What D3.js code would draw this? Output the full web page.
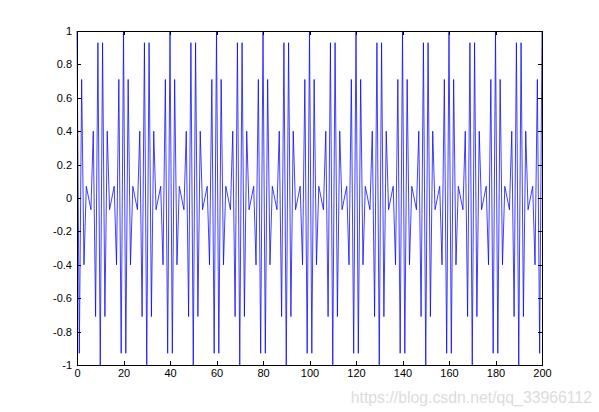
<!DOCTYPE html>
<html lang="en">
<head>
<meta charset="UTF-8">
<title>Sampled cosine</title>
<script src="https://d3js.org/d3.v7.min.js"></script>
<style>
  body { margin: 0; background: #fff; }
  svg text { font-family: "Liberation Sans", Arial, sans-serif; }
  .axis path, .axis line { stroke: #000; shape-rendering: crispEdges; }
  .axis text { font-size: 11px; fill: #000; }
</style>
</head>
<body>
<svg width="599" height="412"></svg>
<script>
// sample values, n = 0 .. 200 (one row per 20 samples)
var values = [
  1, -0.93, 0.71, -0.40, 0.07, 0, -0.07, 0.40, -0.71, 0.93, -1, 0.93, -0.71, 0.40, -0.07, 0, 0.07, -0.40, 0.71, -0.93,
  1, -0.93, 0.71, -0.40, 0.07, 0, -0.07, 0.40, -0.71, 0.93, -1, 0.93, -0.71, 0.40, -0.07, 0, 0.07, -0.40, 0.71, -0.93,
  1, -0.93, 0.71, -0.40, 0.07, 0, -0.07, 0.40, -0.71, 0.93, -1, 0.93, -0.71, 0.40, -0.07, 0, 0.07, -0.40, 0.71, -0.93,
  1, -0.93, 0.71, -0.40, 0.07, 0, -0.07, 0.40, -0.71, 0.93, -1, 0.93, -0.71, 0.40, -0.07, 0, 0.07, -0.40, 0.71, -0.93,
  1, -0.93, 0.71, -0.40, 0.07, 0, -0.07, 0.40, -0.71, 0.93, -1, 0.93, -0.71, 0.40, -0.07, 0, 0.07, -0.40, 0.71, -0.93,
  1, -0.93, 0.71, -0.40, 0.07, 0, -0.07, 0.40, -0.71, 0.93, -1, 0.93, -0.71, 0.40, -0.07, 0, 0.07, -0.40, 0.71, -0.93,
  1, -0.93, 0.71, -0.40, 0.07, 0, -0.07, 0.40, -0.71, 0.93, -1, 0.93, -0.71, 0.40, -0.07, 0, 0.07, -0.40, 0.71, -0.93,
  1, -0.93, 0.71, -0.40, 0.07, 0, -0.07, 0.40, -0.71, 0.93, -1, 0.93, -0.71, 0.40, -0.07, 0, 0.07, -0.40, 0.71, -0.93,
  1, -0.93, 0.71, -0.40, 0.07, 0, -0.07, 0.40, -0.71, 0.93, -1, 0.93, -0.71, 0.40, -0.07, 0, 0.07, -0.40, 0.71, -0.93,
  1, -0.93, 0.71, -0.40, 0.07, 0, -0.07, 0.40, -0.71, 0.93, -1, 0.93, -0.71, 0.40, -0.07, 0, 0.07, -0.40, 0.71, -0.93,
  1
];
var xTicks = [0, 20, 40, 60, 80, 100, 120, 140, 160, 180, 200];
var yTicks = [-1, -0.8, -0.6, -0.4, -0.2, 0, 0.2, 0.4, 0.6, 0.8, 1];

var svg = d3.select("svg");
var plotLeft = 77, plotTop = 31, plotRight = 542, plotBottom = 365;

var x = d3.scaleLinear().domain([0, 200]).range([plotLeft, plotRight]);
var y = d3.scaleLinear().domain([-1, 1]).range([plotBottom, plotTop]);

// signal first, axes box drawn over it
var line = d3.line()
    .x(function(d, i) { return x(i); })
    .y(function(d) { return y(d); });

svg.append("path")
    .datum(values)
    .attr("fill", "none")
    .attr("stroke", "#0000ff")
    .attr("stroke-width", 0.75)
    .attr("d", line);

var fmt = function(d) { return String(+d.toFixed(1)); };

svg.append("g").attr("class", "axis")
    .attr("transform", "translate(0," + plotBottom + ")")
    .call(d3.axisBottom(x).tickValues(xTicks).tickSizeInner(-4).tickSizeOuter(0).tickPadding(4).tickFormat(fmt));

svg.append("g").attr("class", "axis")
    .attr("transform", "translate(" + plotLeft + ",0)")
    .call(d3.axisLeft(y).tickValues(yTicks).tickSizeInner(-4).tickSizeOuter(0).tickPadding(5).tickFormat(fmt));

svg.append("g").attr("class", "axis")
    .attr("transform", "translate(0," + plotTop + ")")
    .call(d3.axisTop(x).tickValues(xTicks).tickSizeInner(-4).tickSizeOuter(0).tickFormat(""));

svg.append("g").attr("class", "axis")
    .attr("transform", "translate(" + plotRight + ",0)")
    .call(d3.axisRight(y).tickValues(yTicks).tickSizeInner(-4).tickSizeOuter(0).tickFormat(""));

// watermark
svg.append("text")
    .attr("x", 592)
    .attr("y", 403)
    .attr("text-anchor", "end")
    .attr("font-size", "15.8px")
    .attr("fill", "#dcdcdc")
    .text("https://blog.csdn.net/qq_33966112");
</script>
</body>
</html>
